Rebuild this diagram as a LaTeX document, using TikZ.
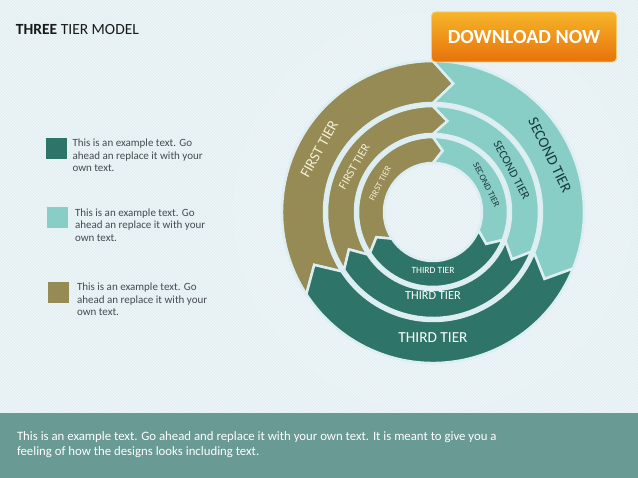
\documentclass[tikz,border=0pt]{standalone}
\usepackage{fontspec}
\setmainfont{Carlito}
\usetikzlibrary{positioning,patterns}
\definecolor{bgblue}{HTML}{E2EFF3}
\definecolor{gapline}{HTML}{DCEEF1}
\definecolor{tierolive}{HTML}{968A55}
\definecolor{tierlight}{HTML}{88CEC6}
\definecolor{tierdark}{HTML}{2E7468}
\definecolor{barteal}{HTML}{699A94}
\definecolor{firstlbl}{HTML}{F3EFD6}
\definecolor{secondlbl}{HTML}{17383A}
\definecolor{legendgray}{HTML}{454B50}
\definecolor{btntop}{HTML}{F6B529}
\definecolor{btnbot}{HTML}{E8720C}
\newcommand{\tierseg}[5]{%
  \pgfmathsetmacro\rmid{(#1+#2)/2}
  \draw[segline,fill=#5] (#3:#2pt) arc[start angle=#3,end angle=#4,radius=#2pt]
    -- ({#4-9}:\rmid pt) -- (#4:#1pt) arc[start angle=#4,end angle=#3,radius=#1pt]
    -- ({#3-9}:\rmid pt) -- cycle;}
\begin{document}
\begin{tikzpicture}[x=1pt,y=1pt,inner sep=0pt,outer sep=0pt,
segline/.style={draw=gapline,line width=2.5pt,line join=miter},
tierlbl/.style={inner sep=0pt},
legsq/.style={rectangle,minimum size=21pt,inner sep=0pt},
legtxt/.style={align=left,text=legendgray,font=\fontsize{11}{12.6}\selectfont},
btn/.style={draw=btntop!70!white,line width=0.8pt,rounded corners=4pt,top color=btntop,bottom color=btnbot,minimum width=185pt,minimum height=50pt}]
\useasboundingbox (0,0) rectangle (638,478);
\fill[bgblue] (0,0) rectangle (638,478);
\fill[pattern=north west lines,pattern color=white!55!bgblue] (0,65) rectangle (638,478);
\fill[white,opacity=0.12] (433,266) circle (200pt);
\fill[barteal] (0,0) rectangle (638,65);
\begin{scope}[shift={(433,266)}]
\tierseg{109}{151}{213}{90}{tierolive}
\tierseg{109}{151}{90}{-22}{tierlight}
\tierseg{109}{151}{-22}{-147}{tierdark}
\tierseg{78}{106}{213}{90}{tierolive}
\tierseg{78}{106}{90}{-22}{tierlight}
\tierseg{78}{106}{-22}{-147}{tierdark}
\tierseg{49}{75}{213}{90}{tierolive}
\tierseg{49}{75}{90}{-22}{tierlight}
\tierseg{49}{75}{-22}{-147}{tierdark}
\node[tierlbl,rotate=61,text=firstlbl,font=\fontsize{15}{15}\selectfont] (first3) at (151:130pt) {FIRST TIER};
\node[tierlbl,rotate=60,text=firstlbl,font=\fontsize{12}{12}\selectfont] (first2) at (150:91pt) {FIRST TIER};
\node[tierlbl,rotate=62,text=firstlbl,font=\fontsize{9}{9}\selectfont] (first1) at (152:60pt) {FIRST TIER};
\node[tierlbl,rotate=-64,text=secondlbl,font=\fontsize{15}{15}\selectfont] (second3) at (26:130pt) {SECOND TIER};
\node[tierlbl,rotate=-62,text=secondlbl,font=\fontsize{12}{12}\selectfont] (second2) at (28:89pt) {SECOND TIER};
\node[tierlbl,rotate=-63,text=secondlbl,font=\fontsize{9}{9}\selectfont] (second1) at (27:60pt) {SECOND TIER};
\node[tierlbl,text=white,font=\fontsize{15.3}{15.3}\selectfont] (third3) at (270:126pt) {THIRD TIER};
\node[tierlbl,text=white,font=\fontsize{12.3}{12.3}\selectfont] (third2) at (270:84pt) {THIRD TIER};
\node[tierlbl,text=white,font=\fontsize{9.5}{9.5}\selectfont] (third1) at (270:58pt) {THIRD TIER};
\end{scope}
\node[anchor=west,text=black!90,font=\fontsize{15.5}{17}\selectfont] (title) at (16,448) {\textbf{THREE} TIER MODEL};
\node[btn] (btn) at (524,441) {};
\node[text=white,font=\bfseries\fontsize{20}{20}\selectfont] (btntext) at (btn) {DOWNLOAD NOW};
\node[legsq,fill=tierdark] (sq1) at (56,329.5) {};
\node[legtxt,right=6pt of sq1,yshift=-7pt] (leg1) {This is an example text. Go\\ahead an replace it with your\\own text.};
\node[legsq,fill=tierlight] (sq2) at (57.5,260) {};
\node[legtxt,right=7pt of sq2,yshift=-7pt] (leg2) {This is an example text. Go\\ahead an replace it with your\\own text.};
\node[legsq,fill=tierolive] (sq3) at (58.5,185.5) {};
\node[legtxt,right=8pt of sq3,yshift=-7pt] (leg3) {This is an example text. Go\\ahead an replace it with your\\own text.};
\node[anchor=west,align=left,text=white,font=\fontsize{12.8}{15}\selectfont] (bartext) at (17,33.5) {This is an example text. Go ahead and replace it with your own text. It is meant to give you a\\feeling of how the designs looks including text.};
\end{tikzpicture}
\end{document}
